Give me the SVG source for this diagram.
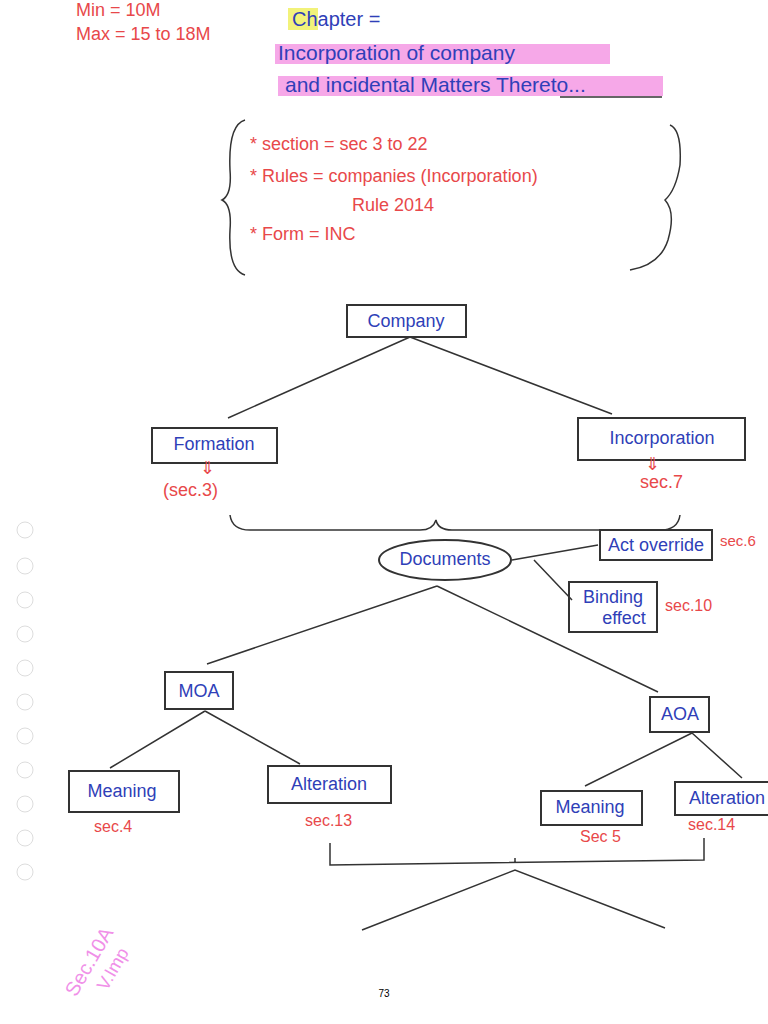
<svg xmlns="http://www.w3.org/2000/svg" width="768" height="1024" viewBox="0 0 768 1024">
<style>
.r{font-family:"Liberation Sans",sans-serif;fill:#e8484a;font-size:18px}
.b{font-family:"Liberation Sans",sans-serif;fill:#2f3fb8;font-size:18px;text-anchor:middle}
.bx{fill:none;stroke:#333;stroke-width:2}
.ln{fill:none;stroke:#333;stroke-width:1.5}
.h{fill:#fff;stroke:#ddd;stroke-width:1}
</style>
<rect width="768" height="1024" fill="#fff"/>
<g id="holes">
<circle class="h" cx="25" cy="530" r="8"/><circle class="h" cx="25" cy="566" r="8"/><circle class="h" cx="25" cy="600" r="8"/><circle class="h" cx="25" cy="634" r="8"/><circle class="h" cx="25" cy="668" r="8"/><circle class="h" cx="25" cy="702" r="8"/><circle class="h" cx="25" cy="736" r="8"/><circle class="h" cx="25" cy="770" r="8"/><circle class="h" cx="25" cy="804" r="8"/><circle class="h" cx="25" cy="838" r="8"/><circle class="h" cx="25" cy="872" r="8"/>
</g>
<g id="header">
<text class="r" x="76" y="16">Min = 10M</text>
<text class="r" x="76" y="40">Max = 15 to 18M</text>
<rect x="288" y="8" width="30" height="22" fill="#f2f27a"/>
<text x="292" y="26" style="font-family:'Liberation Sans',sans-serif;font-size:20px;fill:#2f3fb8">Chapter =</text>
<rect x="275" y="44" width="335" height="20" fill="#f6a8e8"/>
<text x="278" y="60" style="font-family:'Liberation Sans',sans-serif;font-size:21px;fill:#2f3fb8">Incorporation of company</text>
<rect x="278" y="76" width="385" height="20" fill="#f6a8e8"/>
<text x="285" y="92" style="font-family:'Liberation Sans',sans-serif;font-size:21px;fill:#2f3fb8">and incidental Matters Thereto...</text>
<line x1="560" y1="97" x2="662" y2="97" class="ln"/>
</g>
<g id="brace">
<path class="ln" d="M245,120 Q228,125 230,170 Q232,195 222,200 Q232,205 230,230 Q228,270 245,275"/>
<path class="ln" d="M670,125 Q682,130 680,165 Q676,190 665,200 Q676,212 668,240 Q660,265 630,270"/>
<text class="r" x="250" y="150">* section = sec 3 to 22</text>
<text class="r" x="250" y="182">* Rules = companies (Incorporation)</text>
<text class="r" x="352" y="211">Rule 2014</text>
<text class="r" x="250" y="240">* Form = INC</text>
</g>
<g id="connectors">
<path class="ln" d="M410,337 L228,418 M410,337 L612,414"/>
<path class="ln" d="M230,515 Q232,530 250,530 L420,530 Q433,530 436,520 Q438,530 452,530 L660,530 Q678,530 680,515"/>
<path class="ln" d="M598,545 L512,560 M534,560 L572,600"/>
<path class="ln" d="M437,586 L207,664 M437,586 L658,692"/>
<path class="ln" d="M205,711 L110,768 M205,711 L300,764"/>
<path class="ln" d="M692,733 L585,786 M692,733 L742,778"/>
<path class="ln" d="M330,843 L330,865 L704,860 L704,838 M515,862 L515,858"/>
<path class="ln" d="M362,930 L515,870 L665,928"/>
</g>
<g id="company"><rect class="bx" x="347" y="305" width="119" height="32"/><text class="b" x="406" y="327">Company</text></g>
<g id="formation"><rect class="bx" x="152" y="428" width="125" height="35"/><text class="b" x="214" y="450">Formation</text>
<text class="r" x="200" y="474">⇓</text><text class="r" x="163" y="496">(sec.3)</text></g>
<g id="incorporation"><rect class="bx" x="578" y="418" width="167" height="42"/><text class="b" x="662" y="444">Incorporation</text>
<text class="r" x="645" y="470">⇓</text><text class="r" x="640" y="488">sec.7</text></g>
<g id="documents"><ellipse class="bx" cx="445" cy="560" rx="66" ry="20"/><text class="b" x="445" y="565">Documents</text></g>
<g id="act"><rect class="bx" x="600" y="530" width="112" height="30"/><text class="b" x="656" y="551">Act override</text><text class="r" x="720" y="546" style="font-size:15px">sec.6</text></g>
<g id="binding"><rect class="bx" x="569" y="582" width="88" height="50"/><text class="b" x="613" y="603">Binding</text><text class="b" x="624" y="624">effect</text><text class="r" x="665" y="611" style="font-size:16px">sec.10</text></g>
<g id="moa"><rect class="bx" x="165" y="672" width="68" height="37"/><text class="b" x="199" y="697">MOA</text></g>
<g id="aoa"><rect class="bx" x="650" y="697" width="59" height="35"/><text class="b" x="680" y="720">AOA</text></g>
<g id="meaning1"><rect class="bx" x="69" y="771" width="110" height="41"/><text class="b" x="122" y="797">Meaning</text><text class="r" x="94" y="832" style="font-size:16px">sec.4</text></g>
<g id="alteration1"><rect class="bx" x="268" y="766" width="123" height="37"/><text class="b" x="329" y="790">Alteration</text><text class="r" x="305" y="826" style="font-size:16px">sec.13</text></g>
<g id="meaning2"><rect class="bx" x="541" y="791" width="101" height="34"/><text class="b" x="590" y="813">Meaning</text><text class="r" x="580" y="842" style="font-size:16px">Sec 5</text></g>
<g id="alteration2"><rect class="bx" x="675" y="782" width="100" height="33"/><text class="b" x="727" y="804">Alteration</text><text class="r" x="688" y="830" style="font-size:16px">sec.14</text></g>
<text x="95" y="965" transform="rotate(-60 95 965)" style="font-family:'Liberation Sans',sans-serif;font-size:20px;fill:#f090e8;text-anchor:middle">Sec.10A</text>
<text x="118" y="972" transform="rotate(-60 118 972)" style="font-family:'Liberation Sans',sans-serif;font-size:18px;fill:#f090e8;text-anchor:middle">V.Imp</text>
<text x="384" y="997" style="font-family:'Liberation Sans',sans-serif;font-size:10px;fill:#000;text-anchor:middle">73</text>
</svg>
